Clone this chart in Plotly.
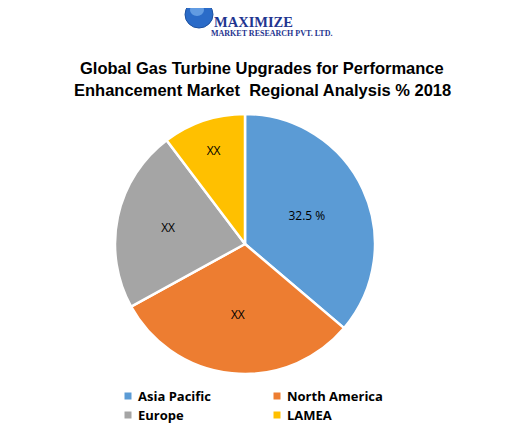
import plotly.graph_objects as go

# The page body has an 8px margin, so the figure is drawn 8px smaller and shifted.
OFF = 8
W, H = 524 - OFF, 427 - OFF

categories = ["Asia Pacific", "North America", "Europe", "LAMEA"]
shares = [36.2, 30.8, 22.7, 10.3]          # slice sizes
slice_labels = ["32.5 %", "XX", "XX", "XX"]
colors = ["#5B9BD5", "#ED7D31", "#A5A5A5", "#FFC000"]

title_lines = ["Global Gas Turbine Upgrades for Performance",
               "Enhancement Market  Regional Analysis % 2018"]

def px(x):
    return (x - OFF) / W

def py(y):
    return 1 - (y - OFF) / H

cx, cy, r = 245, 244, 130

fig = go.Figure()
fig.add_trace(go.Pie(
    labels=categories, values=shares, text=slice_labels,
    textinfo="text", textposition="inside", insidetextorientation="horizontal",
    sort=False, direction="clockwise", rotation=0,
    marker=dict(colors=colors, line=dict(color="white", width=2.5)),
    textfont=dict(family="Open Sans, Arial", size=12, color="black"),
    domain=dict(x=[px(cx - r), px(cx + r)], y=[py(cy + r), py(cy - r)]),
    showlegend=False, hoverinfo="label+value",
))

annotations = []
shapes = []

# title
for i, line in enumerate(title_lines):
    annotations.append(dict(
        text="<b>%s</b>" % line, x=px(262), y=py(68 + 22 * i),
        xref="paper", yref="paper", xanchor="center", yanchor="middle",
        showarrow=False, font=dict(family="Liberation Sans, Arial", size=16.5, color="black")))

# legend (2 columns)
leg_pos = [(128, 396), (277, 396), (128, 415), (277, 415)]
for (lx, ly), name, col in zip(leg_pos, categories, colors):
    shapes.append(dict(type="rect", xref="paper", yref="paper",
                       x0=px(lx - 3.5), x1=px(lx + 3.5), y0=py(ly + 3.5), y1=py(ly - 3.5),
                       fillcolor=col, line=dict(width=0)))
    annotations.append(dict(
        text="<b>%s</b>" % name, x=px(lx + 8), y=py(ly), xref="paper", yref="paper",
        xanchor="left", yanchor="middle", showarrow=False,
        font=dict(family="Open Sans, Arial", size=13, color="black")))

# logo
shapes.append(dict(type="circle", xref="paper", yref="paper",
                   x0=px(185), x1=px(213), y0=py(28), y1=py(1),
                   fillcolor="#2A6BC8", line=dict(color="#1B4F9E", width=1)))
shapes.append(dict(type="circle", xref="paper", yref="paper",
                   x0=px(190), x1=px(204), y0=py(16), y1=py(4),
                   fillcolor="#6FA8E8", line=dict(width=0), opacity=0.8))
annotations.append(dict(text="<b>MAXIMIZE</b>", x=px(212), y=py(22), xref="paper", yref="paper",
                        xanchor="left", yanchor="middle", showarrow=False,
                        font=dict(family="Liberation Serif, DejaVu Serif", size=14.5, color="#1F3590")))
annotations.append(dict(text="<b>MARKET RESEARCH PVT. LTD.</b>", x=px(209), y=py(33), xref="paper", yref="paper",
                        xanchor="left", yanchor="middle", showarrow=False,
                        font=dict(family="Liberation Serif, DejaVu Serif", size=8, color="#1F3590")))

fig.update_layout(width=W, height=H, margin=dict(l=0, r=0, t=0, b=0),
                  paper_bgcolor="white", plot_bgcolor="white",
                  annotations=annotations, shapes=shapes)

fig.write_html("out.html")
